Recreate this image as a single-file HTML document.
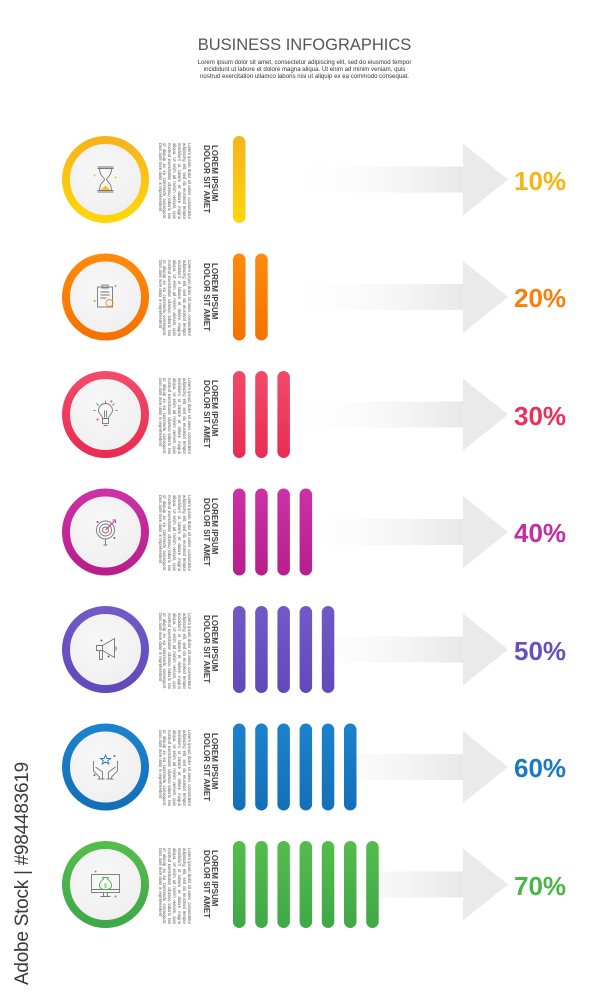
<!DOCTYPE html>
<html><head><meta charset="utf-8">
<style>
html,body{margin:0;padding:0;background:#fff;}
body{width:609px;height:1000px;position:relative;overflow:hidden;font-family:"Liberation Sans",Arial,sans-serif;}
.t{position:absolute;left:0;top:37px;width:609px;text-align:center;font-size:16.5px;line-height:16.5px;color:#555;}
.s{position:absolute;left:0;top:58.8px;width:609px;text-align:center;font-size:6.1px;line-height:7.3px;color:#333;white-space:nowrap;}
.h{position:absolute;left:218px;width:80px;font-weight:bold;font-size:8px;line-height:8px;color:#444;transform-origin:0 0;transform:rotate(90deg);white-space:nowrap;}
.b{position:absolute;left:191px;width:76px;font-size:4.2px;line-height:4.9px;color:#555;text-align:justify;transform-origin:0 0;transform:rotate(90deg);}
.p{position:absolute;left:514px;font-weight:bold;font-size:26px;line-height:26px;white-space:nowrap;}
.w{position:absolute;left:13px;top:985px;font-size:19px;line-height:19px;color:#3a3a3a;white-space:nowrap;transform-origin:0 0;transform:rotate(-90deg);letter-spacing:-0.25px;}
svg{position:absolute;left:0;top:0;}
</style></head><body>
<svg width="609" height="1000" viewBox="0 0 609 1000">
<defs>
<linearGradient id="sh" gradientUnits="userSpaceOnUse" x1="280" y1="0" x2="462" y2="0"><stop offset="0" stop-color="#ffffff" stop-opacity="0"/><stop offset="1" stop-color="#e8e8e8"/></linearGradient>
<linearGradient id="gy" x1="0" y1="0" x2="0" y2="1"><stop offset="0" stop-color="#f5b41c"/><stop offset="1" stop-color="#ffd60a"/></linearGradient>
<linearGradient id="go" x1="0" y1="0" x2="0" y2="1"><stop offset="0" stop-color="#ff8a0d"/><stop offset="1" stop-color="#f57200"/></linearGradient>
<linearGradient id="gr" x1="0" y1="0" x2="0" y2="1"><stop offset="0" stop-color="#f24a6b"/><stop offset="1" stop-color="#e92c52"/></linearGradient>
<linearGradient id="gm" x1="0" y1="0" x2="0" y2="1"><stop offset="0" stop-color="#cc31a6"/><stop offset="1" stop-color="#b81e8c"/></linearGradient>
<linearGradient id="gp" x1="0" y1="0" x2="0" y2="1"><stop offset="0" stop-color="#7159c7"/><stop offset="1" stop-color="#6249bb"/></linearGradient>
<linearGradient id="gb" x1="0" y1="0" x2="0" y2="1"><stop offset="0" stop-color="#1c82cc"/><stop offset="1" stop-color="#146fb8"/></linearGradient>
<linearGradient id="gg" x1="0" y1="0" x2="0" y2="1"><stop offset="0" stop-color="#55bd4c"/><stop offset="1" stop-color="#3fa848"/></linearGradient>
<radialGradient id="inn" cx="0.45" cy="0.4" r="0.6"><stop offset="0" stop-color="#f8f8f8"/><stop offset="1" stop-color="#efefef"/></radialGradient>
</defs>

<!-- Row 1 -->
<g transform="translate(0,179.5)">
<rect x="280" y="-13" width="185" height="26" fill="url(#sh)"/>
<polygon points="463,-36 508,0 463,36" fill="#eaeaea"/>
<circle cx="105.5" cy="0" r="39.5" fill="url(#inn)" stroke="url(#gy)" stroke-width="8"/>
<rect x="233" y="-43.5" width="12.5" height="87" rx="6.25" fill="url(#gy)"/>
<g transform="translate(105.5,0)" fill="none" stroke="#777" stroke-width="0.9">
<path d="M-8,-11H8M-8,11H8M-8,-12.5H8M-8,12.5H8M-6,-11C-6,-3 -1,-2 -1,0C-1,2 -6,3 -6,11M6,-11C6,-3 1,-2 1,0C1,2 6,3 6,11"/>
<path d="M-5,10.5 L0,6 L5,10.5Z" fill="#f7c21b" stroke="none"/>
<circle cx="-11" cy="-4" r="1" fill="#f7c21b" stroke="none"/><circle cx="10" cy="-2" r="1" fill="#f7c21b" stroke="none"/>
</g>
</g>

<!-- Row 2 -->
<g transform="translate(0,297)">
<rect x="280" y="-13" width="185" height="26" fill="url(#sh)"/>
<polygon points="463,-36 508,0 463,36" fill="#eaeaea"/>
<circle cx="105.5" cy="0" r="39.5" fill="url(#inn)" stroke="url(#go)" stroke-width="8"/>
<rect x="233" y="-43.5" width="12.5" height="87" rx="6.25" fill="url(#go)"/>
<rect x="255.2" y="-43.5" width="12.5" height="87" rx="6.25" fill="url(#go)"/>
<g transform="translate(105.5,0)" fill="none" stroke="#777" stroke-width="0.9">
<rect x="-8" y="-10" width="15" height="20"/><rect x="-3.5" y="-12" width="6" height="3"/>
<path d="M-5,-5H4M-5,-2H4M-5,1H1"/>
<circle cx="4" cy="6" r="3.5" stroke="#f7891f"/>
<circle cx="-11" cy="4" r="1" fill="#f7891f" stroke="none"/><circle cx="10" cy="-11" r="1" fill="#f7891f" stroke="none"/>
</g>
</g>

<!-- Row 3 -->
<g transform="translate(0,414.5)">
<rect x="280" y="-13" width="185" height="26" fill="url(#sh)"/>
<polygon points="463,-36 508,0 463,36" fill="#eaeaea"/>
<circle cx="105.5" cy="0" r="39.5" fill="url(#inn)" stroke="url(#gr)" stroke-width="8"/>
<rect x="233" y="-43.5" width="12.5" height="87" rx="6.25" fill="url(#gr)"/>
<rect x="255.2" y="-43.5" width="12.5" height="87" rx="6.25" fill="url(#gr)"/>
<rect x="277.4" y="-43.5" width="12.5" height="87" rx="6.25" fill="url(#gr)"/>
<g transform="translate(105.5,0)" fill="none" stroke="#777" stroke-width="0.9">
<path d="M-3,4 C-3,1 -7,-1 -7,-4 A7,7 0 1 1 7,-4 C7,-1 3,1 3,4Z"/>
<rect x="-3" y="4" width="6" height="5"/><path d="M-2,11H2M0,-14V-11M-9,-11L-7,-9M9,-11L7,-9M-12,-4H-10M12,-4H10M-1,-4V3M1,-4V3"/>
<circle cx="-8" cy="5" r="1" fill="#ef3d63" stroke="none"/><circle cx="6" cy="-13" r="1" fill="#ef3d63" stroke="none"/>
</g>
</g>

<!-- Row 4 -->
<g transform="translate(0,532)">
<rect x="280" y="-13" width="185" height="26" fill="url(#sh)"/>
<polygon points="463,-36 508,0 463,36" fill="#eaeaea"/>
<circle cx="105.5" cy="0" r="39.5" fill="url(#inn)" stroke="url(#gm)" stroke-width="8"/>
<rect x="233" y="-43.5" width="12.5" height="87" rx="6.25" fill="url(#gm)"/>
<rect x="255.2" y="-43.5" width="12.5" height="87" rx="6.25" fill="url(#gm)"/>
<rect x="277.4" y="-43.5" width="12.5" height="87" rx="6.25" fill="url(#gm)"/>
<rect x="299.6" y="-43.5" width="12.5" height="87" rx="6.25" fill="url(#gm)"/>
<g transform="translate(105.5,0)" fill="none" stroke="#777" stroke-width="0.9">
<circle cx="0" cy="-2" r="9"/><circle cx="0" cy="-2" r="6"/><circle cx="0" cy="-2" r="3"/>
<path d="M0,7V13M-2,13H2"/><path d="M0,-2L9,-11M7,-12L10,-12L10,-9" stroke="#c42da3"/>
<circle cx="-8" cy="-10" r="1" fill="#c42da3" stroke="none"/><circle cx="9" cy="6" r="1" fill="#c42da3" stroke="none"/>
</g>
</g>

<!-- Row 5 -->
<g transform="translate(0,649.5)">
<rect x="280" y="-13" width="185" height="26" fill="url(#sh)"/>
<polygon points="463,-36 508,0 463,36" fill="#eaeaea"/>
<circle cx="105.5" cy="0" r="39.5" fill="url(#inn)" stroke="url(#gp)" stroke-width="8"/>
<rect x="233" y="-43.5" width="12.5" height="87" rx="6.25" fill="url(#gp)"/>
<rect x="255.2" y="-43.5" width="12.5" height="87" rx="6.25" fill="url(#gp)"/>
<rect x="277.4" y="-43.5" width="12.5" height="87" rx="6.25" fill="url(#gp)"/>
<rect x="299.6" y="-43.5" width="12.5" height="87" rx="6.25" fill="url(#gp)"/>
<rect x="321.8" y="-43.5" width="12.5" height="87" rx="6.25" fill="url(#gp)"/>
<g transform="translate(105.5,0)" fill="none" stroke="#777" stroke-width="0.9">
<path d="M-9,-4H-3L9,-11V8L-3,1H-9Z"/><path d="M-3,-4V1"/><rect x="-6" y="1" width="3" height="9"/>
<circle cx="-4" cy="-9" r="1" fill="#6650c0" stroke="none"/><circle cx="3" cy="7" r="1" fill="#6650c0" stroke="none"/>
<path d="M10,-3A3,3 0 0 1 10,1" stroke="#6650c0"/>
</g>
</g>

<!-- Row 6 -->
<g transform="translate(0,767)">
<rect x="280" y="-13" width="185" height="26" fill="url(#sh)"/>
<polygon points="463,-36 508,0 463,36" fill="#eaeaea"/>
<circle cx="105.5" cy="0" r="39.5" fill="url(#inn)" stroke="url(#gb)" stroke-width="8"/>
<rect x="233" y="-43.5" width="12.5" height="87" rx="6.25" fill="url(#gb)"/>
<rect x="255.2" y="-43.5" width="12.5" height="87" rx="6.25" fill="url(#gb)"/>
<rect x="277.4" y="-43.5" width="12.5" height="87" rx="6.25" fill="url(#gb)"/>
<rect x="299.6" y="-43.5" width="12.5" height="87" rx="6.25" fill="url(#gb)"/>
<rect x="321.8" y="-43.5" width="12.5" height="87" rx="6.25" fill="url(#gb)"/>
<rect x="344" y="-43.5" width="12.5" height="87" rx="6.25" fill="url(#gb)"/>
<g transform="translate(105.5,0)" fill="none" stroke="#777" stroke-width="0.9">
<path d="M0,-12L1.5,-8.5L5,-8.5L2.2,-6.3L3.3,-3L0,-5L-3.3,-3L-2.2,-6.3L-5,-8.5L-1.5,-8.5Z" stroke="#1a78c5"/>
<path d="M-12,-6V4L-6,10V12M12,-6V4L6,10V12M-10,0L-3,5V12M10,0L3,5V12M-8,12H-1M1,12H8"/>
<circle cx="-11" cy="8" r="1" fill="#1a78c5" stroke="none"/><circle cx="9" cy="-11" r="1" fill="#1a78c5" stroke="none"/>
</g>
</g>

<!-- Row 7 -->
<g transform="translate(0,884.5)">
<rect x="280" y="-13" width="185" height="26" fill="url(#sh)"/>
<polygon points="463,-36 508,0 463,36" fill="#eaeaea"/>
<circle cx="105.5" cy="0" r="39.5" fill="url(#inn)" stroke="url(#gg)" stroke-width="8"/>
<rect x="233" y="-43.5" width="12.5" height="87" rx="6.25" fill="url(#gg)"/>
<rect x="255.2" y="-43.5" width="12.5" height="87" rx="6.25" fill="url(#gg)"/>
<rect x="277.4" y="-43.5" width="12.5" height="87" rx="6.25" fill="url(#gg)"/>
<rect x="299.6" y="-43.5" width="12.5" height="87" rx="6.25" fill="url(#gg)"/>
<rect x="321.8" y="-43.5" width="12.5" height="87" rx="6.25" fill="url(#gg)"/>
<rect x="344" y="-43.5" width="12.5" height="87" rx="6.25" fill="url(#gg)"/>
<rect x="366.2" y="-43.5" width="12.5" height="87" rx="6.25" fill="url(#gg)"/>
<g transform="translate(105.5,0)" fill="none" stroke="#777" stroke-width="0.9">
<rect x="-14" y="-10" width="28" height="18"/><path d="M-14,5H14M-2,8V12M2,8V12M-5,12H5"/>
<path d="M-3,-7H3L2,-5C5,-4 6,-1 6,1C6,4 3,5 0,5C-3,5 -6,4 -6,1C-6,-1 -5,-4 -2,-5Z" stroke="#4bb548"/>
<text x="0" y="3" font-size="5.5" text-anchor="middle" fill="#4bb548" stroke="none" font-family="Liberation Sans">$</text>
<circle cx="-10" cy="-13" r="1" fill="#4bb548" stroke="none"/><circle cx="10" cy="12" r="1" fill="#4bb548" stroke="none"/>
</g>
</g>
</svg>

<div class="t">BUSINESS INFOGRAPHICS</div>
<div class="s">Lorem ipsum dolor sit amet, consectetur adipiscing elit, sed do eiusmod tempor<br>incididunt ut labore et dolore magna aliqua. Ut enim ad minim veniam, quis<br>nostrud exercitation ullamco laboris nisi ut aliquip ex ea commodo consequat.</div>

<div class="h" style="top:145px">LOREM IPSUM<br>DOLOR SIT AMET</div>
<div class="h" style="top:262.5px">LOREM IPSUM<br>DOLOR SIT AMET</div>
<div class="h" style="top:380px">LOREM IPSUM<br>DOLOR SIT AMET</div>
<div class="h" style="top:497.5px">LOREM IPSUM<br>DOLOR SIT AMET</div>
<div class="h" style="top:615px">LOREM IPSUM<br>DOLOR SIT AMET</div>
<div class="h" style="top:732.5px">LOREM IPSUM<br>DOLOR SIT AMET</div>
<div class="h" style="top:850px">LOREM IPSUM<br>DOLOR SIT AMET</div>

<div class="b" style="top:142.5px">Lorem ipsum dolor sit amet, consectetur adipiscing elit, sed do eiusmod tempor incididunt ut labore et dolore magna aliqua. Ut enim ad minim veniam, quis nostrud exercitation ullamco laboris nisi ut aliquip ex ea commodo consequat. Duis aute irure dolor in reprehenderit</div>
<div class="b" style="top:260px">Lorem ipsum dolor sit amet, consectetur adipiscing elit, sed do eiusmod tempor incididunt ut labore et dolore magna aliqua. Ut enim ad minim veniam, quis nostrud exercitation ullamco laboris nisi ut aliquip ex ea commodo consequat. Duis aute irure dolor in reprehenderit</div>
<div class="b" style="top:377.5px">Lorem ipsum dolor sit amet, consectetur adipiscing elit, sed do eiusmod tempor incididunt ut labore et dolore magna aliqua. Ut enim ad minim veniam, quis nostrud exercitation ullamco laboris nisi ut aliquip ex ea commodo consequat. Duis aute irure dolor in reprehenderit</div>
<div class="b" style="top:495px">Lorem ipsum dolor sit amet, consectetur adipiscing elit, sed do eiusmod tempor incididunt ut labore et dolore magna aliqua. Ut enim ad minim veniam, quis nostrud exercitation ullamco laboris nisi ut aliquip ex ea commodo consequat. Duis aute irure dolor in reprehenderit</div>
<div class="b" style="top:612.5px">Lorem ipsum dolor sit amet, consectetur adipiscing elit, sed do eiusmod tempor incididunt ut labore et dolore magna aliqua. Ut enim ad minim veniam, quis nostrud exercitation ullamco laboris nisi ut aliquip ex ea commodo consequat. Duis aute irure dolor in reprehenderit</div>
<div class="b" style="top:730px">Lorem ipsum dolor sit amet, consectetur adipiscing elit, sed do eiusmod tempor incididunt ut labore et dolore magna aliqua. Ut enim ad minim veniam, quis nostrud exercitation ullamco laboris nisi ut aliquip ex ea commodo consequat. Duis aute irure dolor in reprehenderit</div>
<div class="b" style="top:847.5px">Lorem ipsum dolor sit amet, consectetur adipiscing elit, sed do eiusmod tempor incididunt ut labore et dolore magna aliqua. Ut enim ad minim veniam, quis nostrud exercitation ullamco laboris nisi ut aliquip ex ea commodo consequat. Duis aute irure dolor in reprehenderit</div>

<div class="p" style="top:167.5px;color:#f7b413">10%</div>
<div class="p" style="top:285px;color:#f77f0a">20%</div>
<div class="p" style="top:402.5px;color:#ec2f5c">30%</div>
<div class="p" style="top:520px;color:#c42da3">40%</div>
<div class="p" style="top:637.5px;color:#6650c0">50%</div>
<div class="p" style="top:755px;color:#1a78c5">60%</div>
<div class="p" style="top:872.5px;color:#4bb548">70%</div>

<div class="w">Adobe Stock | #984483619</div>
</body></html>
